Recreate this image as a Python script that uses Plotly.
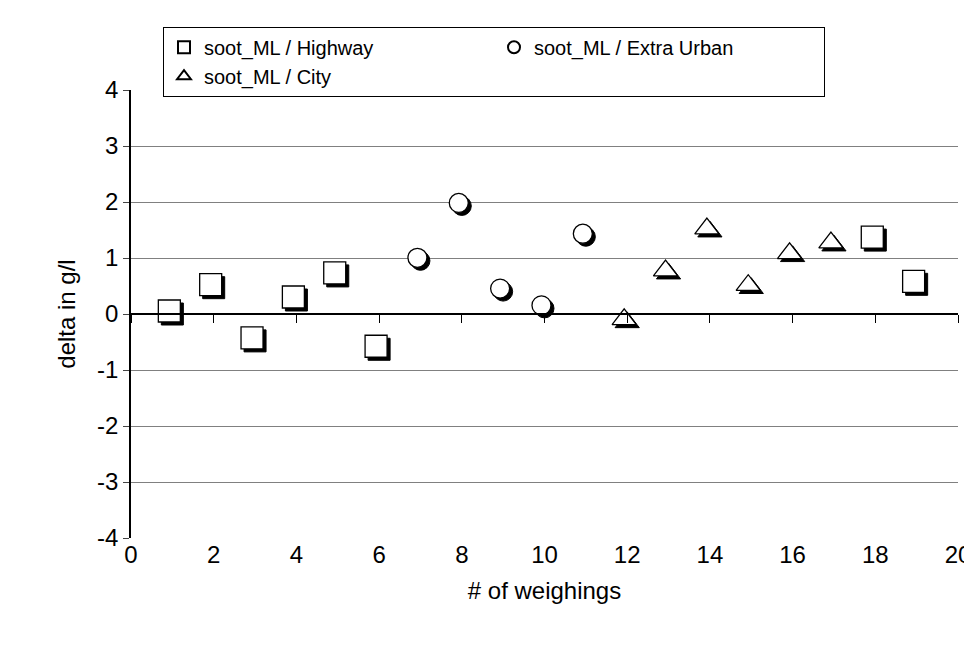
import plotly.graph_objects as go

hw_x = [1, 2, 3, 4, 5, 6, 18, 19]
hw_y = [0.0, 0.47, -0.48, 0.25, 0.68, -0.63, 1.32, 0.53]
eu_x = [7, 8, 9, 10, 11]
eu_y = [0.95, 1.93, 0.40, 0.10, 1.38]
ci_x = [12, 13, 14, 15, 16, 17]
ci_y = [-0.15, 0.72, 1.47, 0.46, 1.03, 1.22]
y_ticks = [-4, -3, -2, -1, 0, 1, 2, 3, 4]
y_labels = ["-4", "-3", "-2", "-1", "0", "1", "2", "3", "4"]

series = [("soot_ML / Highway", hw_x, hw_y, "square", 22),
          ("soot_ML / Extra Urban", eu_x, eu_y, "circle", 19),
          ("soot_ML / City", ci_x, ci_y, "triangle-up", 21)]

fig = go.Figure()
# shadows on main axes
for name, x, y, sym, sz in series:
    fig.add_trace(go.Scatter(x=x, y=y, mode="markers", showlegend=False, hoverinfo="skip",
                             marker=dict(symbol=sym, size=sz, color="black",
                                         line=dict(color="black", width=1))))
# white markers on overlay axes (drawn on top, shifted up-left)
for name, x, y, sym, sz in series:
    fig.add_trace(go.Scatter(x=x, y=y, mode="markers", name=name, xaxis="x2", yaxis="y2",
                             marker=dict(symbol=sym, size=sz, color="white",
                                         line=dict(color="black", width=1.3))))

font = dict(family="Liberation Sans, Arial", size=24, color="black")
fig.update_layout(
    width=972, height=669, paper_bgcolor="white", plot_bgcolor="white",
    margin=dict(l=123, r=22, t=82, b=139, autoexpand=False), font=font, showlegend=True,
    legend=dict(orientation="h", x=0.5, xanchor="center", xref="container",
                y=0.972, yanchor="top", yref="container",
                bordercolor="black", borderwidth=1,
                font=dict(size=20, family="Liberation Sans, Arial"),
                itemsizing="constant", entrywidth=285),
    xaxis=dict(range=[0, 20], dtick=2, showgrid=False, zeroline=False, showline=False,
               ticks="", tickfont=font, title=dict(text="# of weighings", font=font)),
    yaxis=dict(range=[-4, 4], tickvals=y_ticks, ticktext=y_labels,
               showgrid=True, gridcolor="#808080", gridwidth=1,
               zeroline=True, zerolinecolor="black", zerolinewidth=1.5,
               showline=True, linecolor="black", linewidth=1.5, ticks="outside", ticklen=6,
               tickfont=font, title=dict(text="delta in g/l", font=font)),
    xaxis2=dict(range=[0.073, 20.073], overlaying="x", visible=False),
    yaxis2=dict(range=[-4.054, 3.946], overlaying="y", visible=False),
    xaxis3=dict(range=[0, 20], dtick=2, overlaying="x", anchor="free", position=0.5,
                side="bottom", showline=True, linecolor="black", linewidth=1.5,
                ticks="outside", ticklen=8, tickcolor="black", showticklabels=False,
                showgrid=False, zeroline=False),
)
fig.add_trace(go.Scatter(x=[0, 20], y=[None, None], xaxis="x3", showlegend=False, hoverinfo="skip"))
fig.write_html("out.html")
